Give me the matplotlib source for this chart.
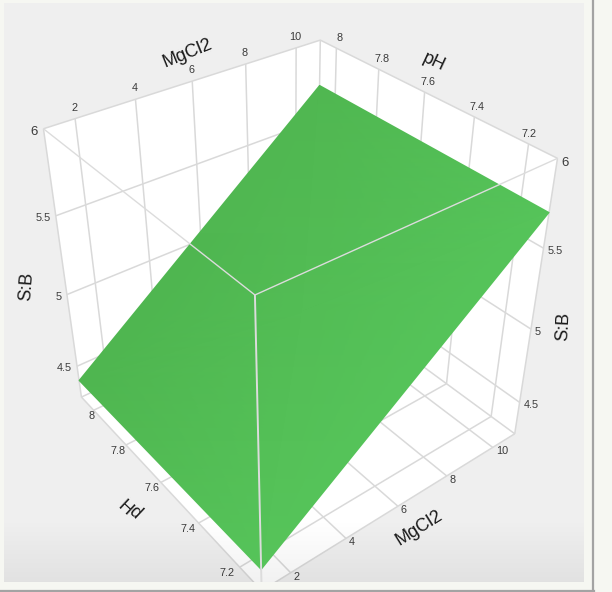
import numpy as np
import matplotlib
matplotlib.use('Agg')
import matplotlib.pyplot as plt
from matplotlib.colors import LinearSegmentedColormap
from matplotlib.patches import Polygon, Rectangle

plt.rcParams['font.family'] = ['Liberation Sans', 'DejaVu Sans']

mgcl2_ticks = [2, 4, 6, 8, 10]
ph_ticks = [7.2, 7.4, 7.6, 7.8, 8]
ph_tick_labels = ['7.2', '7.4', '7.6', '7.8', '8']
sb_ticks = [4.5, 5, 5.5]
sb_tick_labels = ['4.5', '5', '5.5']

mgcl2_range = [1, 11]
ph_range = [7.1, 8.08]
sb_range = [4.27, 6]

# fitted surface at the corners of the MgCl2 / pH box
surface_mgcl2 = [1, 11]
surface_ph = [7.1, 8.08]
surface_sb = [[4.42, 4.395], [5.705, 5.72]]
surface_shade = [[1.0, 0.0], [1.0, 0.1]]

# view of the box, (MgCl2, pH, S:B, 1) -> pixel
camera = np.array([[-2.49322283e+02, 1.21965048e+03, 2.31347798e+02, -1.13231805e+04],
                   [6.23273389e+01, 8.03663625e+02, 1.49264264e+03, -1.64886573e+04],
                   [-1.22579410e-01, -1.63849237e+00, 7.95707952e-01, 1.00000000e+00]])


def project(m, p, s):
    h = camera @ np.array([m, p, s, np.ones_like(np.asarray(m, dtype=float))], dtype=float)
    return h[0] / h[2], h[1] / h[2]


fig = plt.figure(figsize=(6.12, 5.92), dpi=100, facecolor='#f6f7f2')
ax = fig.add_axes([0, 0, 1, 1])
ax.axis('off')

panel = Rectangle((4, 3), 580, 579, facecolor='#efefef', edgecolor='none', zorder=0)
ax.add_patch(panel)
ax.plot([593, 593], [0, 592], color='#a3a3a3', lw=1.6, zorder=0)
ax.plot([0, 594], [591, 591], color='#a3a3a3', lw=1.6, zorder=0)

m0, m1 = mgcl2_range
p0, p1 = ph_range
s0, s1 = sb_range
GRID = '#d9d9d9'


def line3(m, p, s, color=GRID, lw=1.1, zorder=2):
    x, y = project(np.array(m, dtype=float), np.array(p, dtype=float), np.array(s, dtype=float))
    line, = ax.plot(x, y, color=color, lw=lw, zorder=zorder, solid_capstyle='butt')
    line.set_clip_path(panel)


def face(m, p, s):
    x, y = project(np.array(m, dtype=float), np.array(p, dtype=float), np.array(s, dtype=float))
    patch = Polygon(np.column_stack([x, y]), facecolor='white', edgecolor='none', zorder=1)
    ax.add_patch(patch)
    patch.set_clip_path(panel)


face([m0, m1, m1, m0], [p1, p1, p1, p1], [s0, s0, s1, s1])
face([m1, m1, m1, m1], [p0, p1, p1, p0], [s0, s0, s1, s1])
face([m0, m1, m1, m0], [p0, p0, p1, p1], [s0, s0, s0, s0])

for m in mgcl2_ticks:
    line3([m, m], [p1, p1], [s0, s1])
    line3([m, m], [p0, p1], [s0, s0])
for p in ph_ticks:
    line3([m1, m1], [p, p], [s0, s1])
    line3([m0, m1], [p, p], [s0, s0])
for s in sb_ticks:
    line3([m0, m1], [p1, p1], [s, s])
    line3([m1, m1], [p0, p1], [s, s])

# back edges and floor edges
line3([m0, m1, m1], [p1, p1, p0], [s1, s1, s1])
line3([m0, m0], [p1, p1], [s0, s1])
line3([m1, m1], [p0, p0], [s0, s1])
line3([m1, m1], [p1, p1], [s0, s1])
line3([m0, m0, m1], [p1, p0, p0], [s0, s0, s0])
line3([m0, m1, m1], [p1, p1, p0], [s0, s0, s0])

# grey fade along the bottom of the panel
fade = np.zeros((64, 2, 4))
fade[:, :, 3] = np.linspace(0, 0.055, 64)[:, None]
ax.imshow(fade, extent=[4, 584, 582, 518], aspect='auto', zorder=3, interpolation='bilinear')

# the surface
mm, pp = np.meshgrid(surface_mgcl2, surface_ph, indexing='ij')
sx, sy = project(mm.ravel(), pp.ravel(), np.array(surface_sb).ravel())
green = LinearSegmentedColormap.from_list('green', ['#4fb650', '#56c45a'])
ax.pcolormesh(sx.reshape(2, 2), sy.reshape(2, 2), np.array(surface_shade), cmap=green,
              shading='gouraud', vmin=0, vmax=1, zorder=4)

# front edges stay on top of the surface
line3([m0, m0, m1], [p1, p0, p0], [s1, s1, s1], color='#dcdcdc', lw=1.0, zorder=5)
line3([m0, m0], [p0, p0], [s0, s1], color='#dcdcdc', lw=1.4, zorder=5)


def tick_label(m, p, s, text, dx, dy, ha='center', size=7.8):
    x, y = project(np.array(float(m)), np.array(float(p)), np.array(float(s)))
    ax.text(x + dx, y + dy, text, ha=ha, va='center', fontsize=size, color='#3a3a3a', zorder=6)


ph_label_dx = [-5, -3, -1, 0, 1]
ph_top_dx = [0, 3, 3, 3, 3]
for m in mgcl2_ticks:
    tick_label(m, p1, s1, str(m), -1, -11)
    tick_label(m, p0, s0, str(m), 3, 4, ha='left')
for p, t, dx, dx_top in zip(ph_ticks, ph_tick_labels, ph_label_dx, ph_top_dx):
    tick_label(m1, p, s1, t, dx_top, -10)
    tick_label(m0, p, s0, t, dx, 6, ha='right')
for s, t in zip(sb_ticks, sb_tick_labels):
    tick_label(m0, p1, s, t, -5, 2, ha='right')
    tick_label(m1, p0, s, t, 4, 3, ha='left')
tick_label(m0, p1, s1, '6', -6, 3, ha='right', size=9.5)
tick_label(m1, p0, s1, '6', 4, 5, ha='left', size=9.5)

title_kw = dict(ha='center', va='center', fontsize=13, color='#1a1a1a', zorder=6, rotation_mode='anchor')
ax.text(187, 53, 'MgCl2', rotation=22, **title_kw)
ax.text(434, 62, 'pH', rotation=-25, **title_kw)
ax.text(27, 286, 'S:B', rotation=86, **title_kw)
ax.text(563, 326, 'S:B', rotation=87, **title_kw)
ax.text(131, 505, 'pH', rotation=137, **title_kw)
ax.text(419, 528, 'MgCl2', rotation=32, **title_kw)

ax.set_xlim(0, 612)
ax.set_ylim(592, 0)
fig.savefig('out.png', dpi=100, facecolor=fig.get_facecolor())
